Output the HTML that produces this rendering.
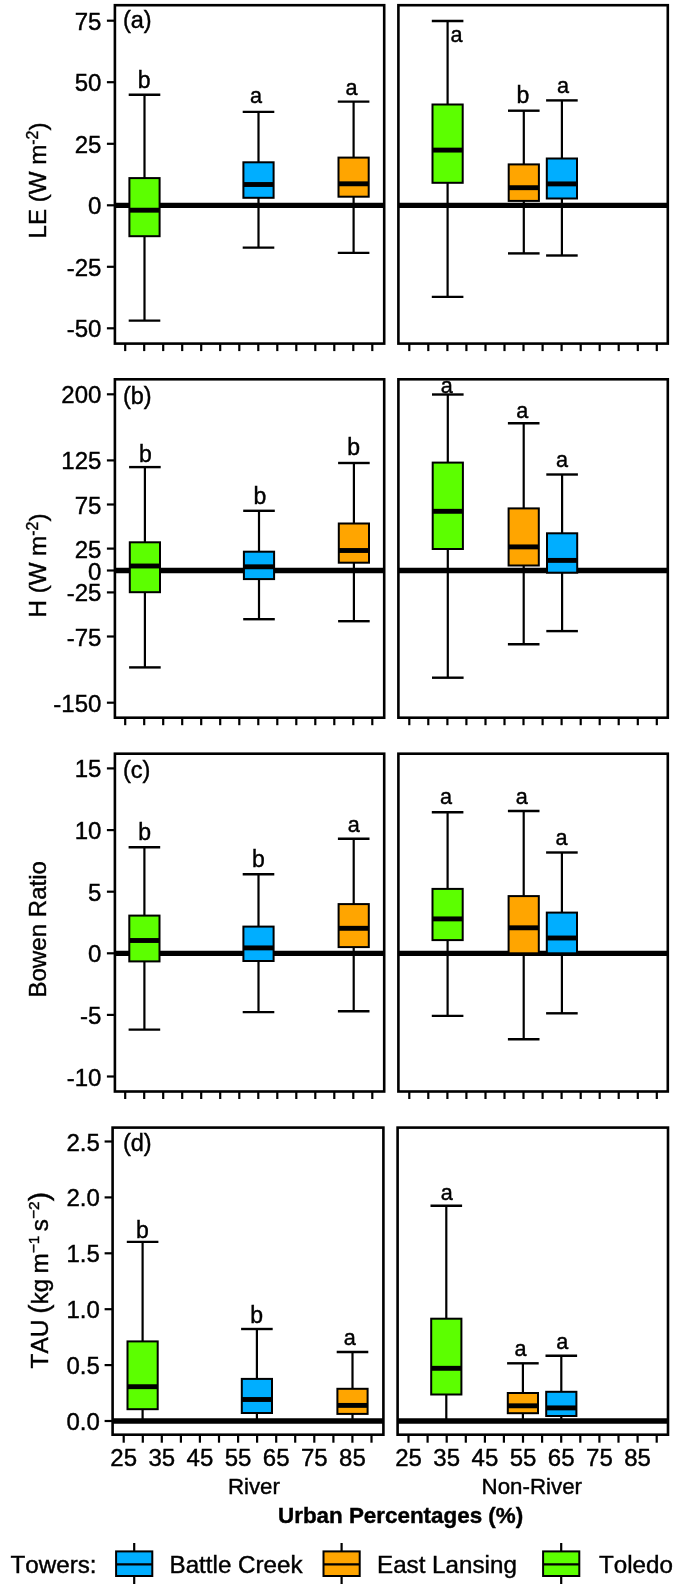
<!DOCTYPE html>
<html lang="en"><head><meta charset="utf-8"><title>Flux boxplots by urban percentage</title>
<style>
html,body{margin:0;padding:0;background:#fff;}
svg{display:block;}
text{font-family:"Liberation Sans",Arial,Helvetica,sans-serif;fill:#000;font-kerning:none;stroke:#000;stroke-width:0.42px;}
.fr{fill:none;stroke:#000;stroke-width:2.6;}
.tk{stroke:#000;stroke-width:2.2;}
.wh{stroke:#000;stroke-width:2.2;}
.cap{stroke:#000;stroke-width:2.4;}
.bx{stroke:#000;stroke-width:2.0;}
.med{stroke:#000;stroke-width:4.9;}
.zl{stroke:#000;stroke-width:5.3;}
.kb{stroke:#000;stroke-width:2;}
.km{stroke:#000;stroke-width:2.4;}
.yl{font-size:24px;text-anchor:end;}
.xl{font-size:24px;text-anchor:middle;}
.fl{font-size:22.3px;text-anchor:middle;}
.xt{font-size:22.4px;font-weight:bold;text-anchor:middle;}
.yt{font-size:24.1px;text-anchor:middle;}
.tag{font-size:23.5px;}
.ytd{font-size:24.3px;}
.let{font-size:23.5px;text-anchor:middle;}
.lg{font-size:24.2px;}
.la{font-size:21.6px;}
.lb{font-size:23px;}
</style></head>
<body>
<svg width="685" height="1589" viewBox="0 0 685 1589">
<defs><filter id="soft" x="0" y="0" width="100%" height="100%" filterUnits="userSpaceOnUse" color-interpolation-filters="sRGB"><feGaussianBlur stdDeviation="0.5"/></filter></defs>
<g filter="url(#soft)">
<rect width="685" height="1589" fill="#fff"/>
<line x1="114.9" y1="205.3" x2="384.2" y2="205.3" class="zl"/>
<line x1="398.4" y1="205.3" x2="667.8" y2="205.3" class="zl"/>
<line x1="144.5" y1="94.7" x2="144.5" y2="320.6" class="wh"/>
<line x1="128.7" y1="94.7" x2="160.3" y2="94.7" class="cap"/>
<line x1="128.7" y1="320.6" x2="160.3" y2="320.6" class="cap"/>
<rect x="129.4" y="178.1" width="30.2" height="58.1" fill="#5CFF00" class="bx"/>
<line x1="129.4" y1="210.2" x2="159.6" y2="210.2" class="med"/>
<text x="144.2" y="87.7" class="let lb">b</text>
<line x1="258.5" y1="111.9" x2="258.5" y2="247.6" class="wh"/>
<line x1="242.7" y1="111.9" x2="274.3" y2="111.9" class="cap"/>
<line x1="242.7" y1="247.6" x2="274.3" y2="247.6" class="cap"/>
<rect x="243.4" y="162.3" width="30.2" height="35.5" fill="#00AEFF" class="bx"/>
<line x1="243.4" y1="184.5" x2="273.6" y2="184.5" class="med"/>
<text x="255.9" y="102.8" class="let la">a</text>
<line x1="353.6" y1="101.6" x2="353.6" y2="252.9" class="wh"/>
<line x1="337.8" y1="101.6" x2="369.4" y2="101.6" class="cap"/>
<line x1="337.8" y1="252.9" x2="369.4" y2="252.9" class="cap"/>
<rect x="338.5" y="157.6" width="30.2" height="39.1" fill="#FFA500" class="bx"/>
<line x1="338.5" y1="183.8" x2="368.7" y2="183.8" class="med"/>
<text x="351.6" y="95.1" class="let la">a</text>
<line x1="447.6" y1="21.0" x2="447.6" y2="296.9" class="wh"/>
<line x1="431.8" y1="21.0" x2="463.4" y2="21.0" class="cap"/>
<line x1="431.8" y1="296.9" x2="463.4" y2="296.9" class="cap"/>
<rect x="432.5" y="104.5" width="30.2" height="78.3" fill="#5CFF00" class="bx"/>
<line x1="432.5" y1="150.1" x2="462.7" y2="150.1" class="med"/>
<text x="456.5" y="41.6" class="let la">a</text>
<line x1="523.8" y1="110.7" x2="523.8" y2="253.4" class="wh"/>
<line x1="508.0" y1="110.7" x2="539.6" y2="110.7" class="cap"/>
<line x1="508.0" y1="253.4" x2="539.6" y2="253.4" class="cap"/>
<rect x="508.7" y="164.4" width="30.2" height="36.5" fill="#FFA500" class="bx"/>
<line x1="508.7" y1="187.7" x2="538.9" y2="187.7" class="med"/>
<text x="523.0" y="102.9" class="let lb">b</text>
<line x1="561.9" y1="100.4" x2="561.9" y2="255.5" class="wh"/>
<line x1="546.1" y1="100.4" x2="577.7" y2="100.4" class="cap"/>
<line x1="546.1" y1="255.5" x2="577.7" y2="255.5" class="cap"/>
<rect x="546.8" y="158.5" width="30.2" height="40.0" fill="#00AEFF" class="bx"/>
<line x1="546.8" y1="183.9" x2="577.0" y2="183.9" class="med"/>
<text x="563.0" y="92.9" class="let la">a</text>
<rect x="114.9" y="5.2" width="269.3" height="338.4" class="fr"/>
<line x1="125.2" y1="343.6" x2="125.2" y2="351.1" class="tk"/>
<line x1="144.2" y1="343.6" x2="144.2" y2="351.1" class="tk"/>
<line x1="163.2" y1="343.6" x2="163.2" y2="351.1" class="tk"/>
<line x1="182.2" y1="343.6" x2="182.2" y2="351.1" class="tk"/>
<line x1="201.2" y1="343.6" x2="201.2" y2="351.1" class="tk"/>
<line x1="220.2" y1="343.6" x2="220.2" y2="351.1" class="tk"/>
<line x1="239.3" y1="343.6" x2="239.3" y2="351.1" class="tk"/>
<line x1="258.3" y1="343.6" x2="258.3" y2="351.1" class="tk"/>
<line x1="277.3" y1="343.6" x2="277.3" y2="351.1" class="tk"/>
<line x1="296.3" y1="343.6" x2="296.3" y2="351.1" class="tk"/>
<line x1="315.3" y1="343.6" x2="315.3" y2="351.1" class="tk"/>
<line x1="334.3" y1="343.6" x2="334.3" y2="351.1" class="tk"/>
<line x1="353.3" y1="343.6" x2="353.3" y2="351.1" class="tk"/>
<line x1="372.3" y1="343.6" x2="372.3" y2="351.1" class="tk"/>
<rect x="398.4" y="5.2" width="269.4" height="338.4" class="fr"/>
<line x1="409.3" y1="343.6" x2="409.3" y2="351.1" class="tk"/>
<line x1="428.3" y1="343.6" x2="428.3" y2="351.1" class="tk"/>
<line x1="447.4" y1="343.6" x2="447.4" y2="351.1" class="tk"/>
<line x1="466.4" y1="343.6" x2="466.4" y2="351.1" class="tk"/>
<line x1="485.5" y1="343.6" x2="485.5" y2="351.1" class="tk"/>
<line x1="504.5" y1="343.6" x2="504.5" y2="351.1" class="tk"/>
<line x1="523.5" y1="343.6" x2="523.5" y2="351.1" class="tk"/>
<line x1="542.6" y1="343.6" x2="542.6" y2="351.1" class="tk"/>
<line x1="561.6" y1="343.6" x2="561.6" y2="351.1" class="tk"/>
<line x1="580.7" y1="343.6" x2="580.7" y2="351.1" class="tk"/>
<line x1="599.7" y1="343.6" x2="599.7" y2="351.1" class="tk"/>
<line x1="618.7" y1="343.6" x2="618.7" y2="351.1" class="tk"/>
<line x1="637.8" y1="343.6" x2="637.8" y2="351.1" class="tk"/>
<line x1="656.8" y1="343.6" x2="656.8" y2="351.1" class="tk"/>
<line x1="106.9" y1="20.7" x2="114.9" y2="20.7" class="tk"/>
<text x="101.4" y="29.7" class="yl">75</text>
<line x1="106.9" y1="82.2" x2="114.9" y2="82.2" class="tk"/>
<text x="101.4" y="91.2" class="yl">50</text>
<line x1="106.9" y1="143.8" x2="114.9" y2="143.8" class="tk"/>
<text x="101.4" y="152.8" class="yl">25</text>
<line x1="106.9" y1="205.3" x2="114.9" y2="205.3" class="tk"/>
<text x="101.4" y="214.3" class="yl">0</text>
<line x1="106.9" y1="266.8" x2="114.9" y2="266.8" class="tk"/>
<text x="101.4" y="275.8" class="yl">-25</text>
<line x1="106.9" y1="328.3" x2="114.9" y2="328.3" class="tk"/>
<text x="101.4" y="337.3" class="yl">-50</text>
<text x="122.9" y="28.0" class="tag">(a)</text>
<line x1="114.9" y1="570.5" x2="384.2" y2="570.5" class="zl"/>
<line x1="398.4" y1="570.5" x2="667.8" y2="570.5" class="zl"/>
<line x1="144.9" y1="467.1" x2="144.9" y2="667.4" class="wh"/>
<line x1="129.1" y1="467.1" x2="160.7" y2="467.1" class="cap"/>
<line x1="129.1" y1="667.4" x2="160.7" y2="667.4" class="cap"/>
<rect x="129.8" y="542.3" width="30.2" height="49.9" fill="#5CFF00" class="bx"/>
<line x1="129.8" y1="566.0" x2="160.0" y2="566.0" class="med"/>
<text x="145.4" y="461.9" class="let lb">b</text>
<line x1="259.0" y1="510.8" x2="259.0" y2="619.2" class="wh"/>
<line x1="243.2" y1="510.8" x2="274.8" y2="510.8" class="cap"/>
<line x1="243.2" y1="619.2" x2="274.8" y2="619.2" class="cap"/>
<rect x="243.9" y="551.7" width="30.2" height="27.4" fill="#00AEFF" class="bx"/>
<line x1="243.9" y1="566.8" x2="274.1" y2="566.8" class="med"/>
<text x="260.0" y="503.6" class="let lb">b</text>
<line x1="353.9" y1="463.0" x2="353.9" y2="621.2" class="wh"/>
<line x1="338.1" y1="463.0" x2="369.7" y2="463.0" class="cap"/>
<line x1="338.1" y1="621.2" x2="369.7" y2="621.2" class="cap"/>
<rect x="338.8" y="523.5" width="30.2" height="39.2" fill="#FFA500" class="bx"/>
<line x1="338.8" y1="550.5" x2="369.0" y2="550.5" class="med"/>
<text x="353.7" y="454.5" class="let lb">b</text>
<line x1="447.8" y1="394.5" x2="447.8" y2="677.7" class="wh"/>
<line x1="432.0" y1="394.5" x2="463.6" y2="394.5" class="cap"/>
<line x1="432.0" y1="677.7" x2="463.6" y2="677.7" class="cap"/>
<rect x="432.7" y="462.6" width="30.2" height="86.4" fill="#5CFF00" class="bx"/>
<line x1="432.7" y1="511.3" x2="462.9" y2="511.3" class="med"/>
<text x="446.8" y="392.9" class="let la">a</text>
<line x1="523.7" y1="423.3" x2="523.7" y2="644.3" class="wh"/>
<line x1="507.9" y1="423.3" x2="539.5" y2="423.3" class="cap"/>
<line x1="507.9" y1="644.3" x2="539.5" y2="644.3" class="cap"/>
<rect x="508.6" y="508.4" width="30.2" height="57.1" fill="#FFA500" class="bx"/>
<line x1="508.6" y1="546.9" x2="538.8" y2="546.9" class="med"/>
<text x="522.2" y="418.3" class="let la">a</text>
<line x1="562.1" y1="474.5" x2="562.1" y2="631.1" class="wh"/>
<line x1="546.3" y1="474.5" x2="577.9" y2="474.5" class="cap"/>
<line x1="546.3" y1="631.1" x2="577.9" y2="631.1" class="cap"/>
<rect x="547.0" y="533.3" width="30.2" height="39.4" fill="#00AEFF" class="bx"/>
<line x1="547.0" y1="560.4" x2="577.2" y2="560.4" class="med"/>
<text x="561.9" y="467.4" class="let la">a</text>
<rect x="114.9" y="379.3" width="269.3" height="338.4" class="fr"/>
<line x1="125.2" y1="717.7" x2="125.2" y2="725.2" class="tk"/>
<line x1="144.2" y1="717.7" x2="144.2" y2="725.2" class="tk"/>
<line x1="163.2" y1="717.7" x2="163.2" y2="725.2" class="tk"/>
<line x1="182.2" y1="717.7" x2="182.2" y2="725.2" class="tk"/>
<line x1="201.2" y1="717.7" x2="201.2" y2="725.2" class="tk"/>
<line x1="220.2" y1="717.7" x2="220.2" y2="725.2" class="tk"/>
<line x1="239.3" y1="717.7" x2="239.3" y2="725.2" class="tk"/>
<line x1="258.3" y1="717.7" x2="258.3" y2="725.2" class="tk"/>
<line x1="277.3" y1="717.7" x2="277.3" y2="725.2" class="tk"/>
<line x1="296.3" y1="717.7" x2="296.3" y2="725.2" class="tk"/>
<line x1="315.3" y1="717.7" x2="315.3" y2="725.2" class="tk"/>
<line x1="334.3" y1="717.7" x2="334.3" y2="725.2" class="tk"/>
<line x1="353.3" y1="717.7" x2="353.3" y2="725.2" class="tk"/>
<line x1="372.3" y1="717.7" x2="372.3" y2="725.2" class="tk"/>
<rect x="398.4" y="379.3" width="269.4" height="338.4" class="fr"/>
<line x1="409.3" y1="717.7" x2="409.3" y2="725.2" class="tk"/>
<line x1="428.3" y1="717.7" x2="428.3" y2="725.2" class="tk"/>
<line x1="447.4" y1="717.7" x2="447.4" y2="725.2" class="tk"/>
<line x1="466.4" y1="717.7" x2="466.4" y2="725.2" class="tk"/>
<line x1="485.5" y1="717.7" x2="485.5" y2="725.2" class="tk"/>
<line x1="504.5" y1="717.7" x2="504.5" y2="725.2" class="tk"/>
<line x1="523.5" y1="717.7" x2="523.5" y2="725.2" class="tk"/>
<line x1="542.6" y1="717.7" x2="542.6" y2="725.2" class="tk"/>
<line x1="561.6" y1="717.7" x2="561.6" y2="725.2" class="tk"/>
<line x1="580.7" y1="717.7" x2="580.7" y2="725.2" class="tk"/>
<line x1="599.7" y1="717.7" x2="599.7" y2="725.2" class="tk"/>
<line x1="618.7" y1="717.7" x2="618.7" y2="725.2" class="tk"/>
<line x1="637.8" y1="717.7" x2="637.8" y2="725.2" class="tk"/>
<line x1="656.8" y1="717.7" x2="656.8" y2="725.2" class="tk"/>
<line x1="106.9" y1="394.3" x2="114.9" y2="394.3" class="tk"/>
<text x="101.4" y="403.3" class="yl">200</text>
<line x1="106.9" y1="460.4" x2="114.9" y2="460.4" class="tk"/>
<text x="101.4" y="469.4" class="yl">125</text>
<line x1="106.9" y1="504.5" x2="114.9" y2="504.5" class="tk"/>
<text x="101.4" y="513.5" class="yl">75</text>
<line x1="106.9" y1="548.6" x2="114.9" y2="548.6" class="tk"/>
<text x="101.4" y="557.6" class="yl">25</text>
<line x1="106.9" y1="570.5" x2="114.9" y2="570.5" class="tk"/>
<text x="101.4" y="579.5" class="yl">0</text>
<line x1="106.9" y1="592.4" x2="114.9" y2="592.4" class="tk"/>
<text x="101.4" y="601.4" class="yl">-25</text>
<line x1="106.9" y1="636.5" x2="114.9" y2="636.5" class="tk"/>
<text x="101.4" y="645.5" class="yl">-75</text>
<line x1="106.9" y1="702.7" x2="114.9" y2="702.7" class="tk"/>
<text x="101.4" y="711.7" class="yl">-150</text>
<text x="122.9" y="403.5" class="tag">(b)</text>
<line x1="114.9" y1="953.3" x2="384.2" y2="953.3" class="zl"/>
<line x1="398.4" y1="953.3" x2="667.8" y2="953.3" class="zl"/>
<line x1="144.4" y1="847.3" x2="144.4" y2="1029.6" class="wh"/>
<line x1="128.6" y1="847.3" x2="160.2" y2="847.3" class="cap"/>
<line x1="128.6" y1="1029.6" x2="160.2" y2="1029.6" class="cap"/>
<rect x="129.3" y="915.6" width="30.2" height="45.8" fill="#5CFF00" class="bx"/>
<line x1="129.3" y1="940.5" x2="159.5" y2="940.5" class="med"/>
<text x="144.7" y="840.1" class="let lb">b</text>
<line x1="258.5" y1="874.3" x2="258.5" y2="1012.1" class="wh"/>
<line x1="242.7" y1="874.3" x2="274.3" y2="874.3" class="cap"/>
<line x1="242.7" y1="1012.1" x2="274.3" y2="1012.1" class="cap"/>
<rect x="243.4" y="926.6" width="30.2" height="34.4" fill="#00AEFF" class="bx"/>
<line x1="243.4" y1="947.9" x2="273.6" y2="947.9" class="med"/>
<text x="258.5" y="866.6" class="let lb">b</text>
<line x1="353.7" y1="838.7" x2="353.7" y2="1011.2" class="wh"/>
<line x1="337.9" y1="838.7" x2="369.5" y2="838.7" class="cap"/>
<line x1="337.9" y1="1011.2" x2="369.5" y2="1011.2" class="cap"/>
<rect x="338.6" y="904.1" width="30.2" height="43.0" fill="#FFA500" class="bx"/>
<line x1="338.6" y1="928.3" x2="368.8" y2="928.3" class="med"/>
<text x="353.7" y="831.9" class="let la">a</text>
<line x1="447.6" y1="812.2" x2="447.6" y2="1015.9" class="wh"/>
<line x1="431.8" y1="812.2" x2="463.4" y2="812.2" class="cap"/>
<line x1="431.8" y1="1015.9" x2="463.4" y2="1015.9" class="cap"/>
<rect x="432.5" y="888.9" width="30.2" height="51.2" fill="#5CFF00" class="bx"/>
<line x1="432.5" y1="918.9" x2="462.7" y2="918.9" class="med"/>
<text x="446.0" y="803.9" class="let la">a</text>
<line x1="523.7" y1="811.0" x2="523.7" y2="1039.2" class="wh"/>
<line x1="507.9" y1="811.0" x2="539.5" y2="811.0" class="cap"/>
<line x1="507.9" y1="1039.2" x2="539.5" y2="1039.2" class="cap"/>
<rect x="508.6" y="896.1" width="30.2" height="57.2" fill="#FFA500" class="bx"/>
<line x1="508.6" y1="927.8" x2="538.8" y2="927.8" class="med"/>
<text x="521.8" y="803.9" class="let la">a</text>
<line x1="561.9" y1="852.5" x2="561.9" y2="1013.3" class="wh"/>
<line x1="546.1" y1="852.5" x2="577.7" y2="852.5" class="cap"/>
<line x1="546.1" y1="1013.3" x2="577.7" y2="1013.3" class="cap"/>
<rect x="546.8" y="912.6" width="30.2" height="40.7" fill="#00AEFF" class="bx"/>
<line x1="546.8" y1="938.0" x2="577.0" y2="938.0" class="med"/>
<text x="561.6" y="845.4" class="let la">a</text>
<rect x="114.9" y="753.7" width="269.3" height="337.8" class="fr"/>
<line x1="125.2" y1="1091.5" x2="125.2" y2="1099.0" class="tk"/>
<line x1="144.2" y1="1091.5" x2="144.2" y2="1099.0" class="tk"/>
<line x1="163.2" y1="1091.5" x2="163.2" y2="1099.0" class="tk"/>
<line x1="182.2" y1="1091.5" x2="182.2" y2="1099.0" class="tk"/>
<line x1="201.2" y1="1091.5" x2="201.2" y2="1099.0" class="tk"/>
<line x1="220.2" y1="1091.5" x2="220.2" y2="1099.0" class="tk"/>
<line x1="239.3" y1="1091.5" x2="239.3" y2="1099.0" class="tk"/>
<line x1="258.3" y1="1091.5" x2="258.3" y2="1099.0" class="tk"/>
<line x1="277.3" y1="1091.5" x2="277.3" y2="1099.0" class="tk"/>
<line x1="296.3" y1="1091.5" x2="296.3" y2="1099.0" class="tk"/>
<line x1="315.3" y1="1091.5" x2="315.3" y2="1099.0" class="tk"/>
<line x1="334.3" y1="1091.5" x2="334.3" y2="1099.0" class="tk"/>
<line x1="353.3" y1="1091.5" x2="353.3" y2="1099.0" class="tk"/>
<line x1="372.3" y1="1091.5" x2="372.3" y2="1099.0" class="tk"/>
<rect x="398.4" y="753.7" width="269.4" height="337.8" class="fr"/>
<line x1="409.3" y1="1091.5" x2="409.3" y2="1099.0" class="tk"/>
<line x1="428.3" y1="1091.5" x2="428.3" y2="1099.0" class="tk"/>
<line x1="447.4" y1="1091.5" x2="447.4" y2="1099.0" class="tk"/>
<line x1="466.4" y1="1091.5" x2="466.4" y2="1099.0" class="tk"/>
<line x1="485.5" y1="1091.5" x2="485.5" y2="1099.0" class="tk"/>
<line x1="504.5" y1="1091.5" x2="504.5" y2="1099.0" class="tk"/>
<line x1="523.5" y1="1091.5" x2="523.5" y2="1099.0" class="tk"/>
<line x1="542.6" y1="1091.5" x2="542.6" y2="1099.0" class="tk"/>
<line x1="561.6" y1="1091.5" x2="561.6" y2="1099.0" class="tk"/>
<line x1="580.7" y1="1091.5" x2="580.7" y2="1099.0" class="tk"/>
<line x1="599.7" y1="1091.5" x2="599.7" y2="1099.0" class="tk"/>
<line x1="618.7" y1="1091.5" x2="618.7" y2="1099.0" class="tk"/>
<line x1="637.8" y1="1091.5" x2="637.8" y2="1099.0" class="tk"/>
<line x1="656.8" y1="1091.5" x2="656.8" y2="1099.0" class="tk"/>
<line x1="106.9" y1="768.4" x2="114.9" y2="768.4" class="tk"/>
<text x="101.4" y="777.4" class="yl">15</text>
<line x1="106.9" y1="830.1" x2="114.9" y2="830.1" class="tk"/>
<text x="101.4" y="839.1" class="yl">10</text>
<line x1="106.9" y1="891.7" x2="114.9" y2="891.7" class="tk"/>
<text x="101.4" y="900.7" class="yl">5</text>
<line x1="106.9" y1="953.3" x2="114.9" y2="953.3" class="tk"/>
<text x="101.4" y="962.3" class="yl">0</text>
<line x1="106.9" y1="1014.9" x2="114.9" y2="1014.9" class="tk"/>
<text x="101.4" y="1023.9" class="yl">-5</text>
<line x1="106.9" y1="1076.5" x2="114.9" y2="1076.5" class="tk"/>
<text x="101.4" y="1085.5" class="yl">-10</text>
<text x="122.9" y="777.8" class="tag">(c)</text>
<line x1="112.6" y1="1421.0" x2="383.4" y2="1421.0" class="zl"/>
<line x1="397.6" y1="1421.0" x2="668.0" y2="1421.0" class="zl"/>
<line x1="142.6" y1="1241.9" x2="142.6" y2="1421.0" class="wh"/>
<line x1="126.8" y1="1241.9" x2="158.4" y2="1241.9" class="cap"/>
<line x1="126.8" y1="1421.0" x2="158.4" y2="1421.0" class="cap"/>
<rect x="127.5" y="1341.4" width="30.2" height="67.8" fill="#5CFF00" class="bx"/>
<line x1="127.5" y1="1386.7" x2="157.7" y2="1386.7" class="med"/>
<text x="142.3" y="1237.8" class="let lb">b</text>
<line x1="256.9" y1="1329.0" x2="256.9" y2="1421.0" class="wh"/>
<line x1="241.1" y1="1329.0" x2="272.7" y2="1329.0" class="cap"/>
<line x1="241.1" y1="1421.0" x2="272.7" y2="1421.0" class="cap"/>
<rect x="241.8" y="1378.9" width="30.2" height="34.1" fill="#00AEFF" class="bx"/>
<line x1="241.8" y1="1399.5" x2="272.0" y2="1399.5" class="med"/>
<text x="256.6" y="1322.9" class="let lb">b</text>
<line x1="352.5" y1="1352.0" x2="352.5" y2="1421.0" class="wh"/>
<line x1="336.7" y1="1352.0" x2="368.3" y2="1352.0" class="cap"/>
<line x1="336.7" y1="1421.0" x2="368.3" y2="1421.0" class="cap"/>
<rect x="337.4" y="1388.8" width="30.2" height="25.1" fill="#FFA500" class="bx"/>
<line x1="337.4" y1="1405.4" x2="367.6" y2="1405.4" class="med"/>
<text x="349.8" y="1345.1" class="let la">a</text>
<line x1="446.3" y1="1205.8" x2="446.3" y2="1421.0" class="wh"/>
<line x1="430.5" y1="1205.8" x2="462.1" y2="1205.8" class="cap"/>
<line x1="430.5" y1="1421.0" x2="462.1" y2="1421.0" class="cap"/>
<rect x="431.2" y="1318.7" width="30.2" height="75.8" fill="#5CFF00" class="bx"/>
<line x1="431.2" y1="1368.3" x2="461.4" y2="1368.3" class="med"/>
<text x="446.7" y="1199.7" class="let la">a</text>
<line x1="522.9" y1="1363.3" x2="522.9" y2="1421.0" class="wh"/>
<line x1="507.1" y1="1363.3" x2="538.7" y2="1363.3" class="cap"/>
<line x1="507.1" y1="1421.0" x2="538.7" y2="1421.0" class="cap"/>
<rect x="507.8" y="1393.0" width="30.2" height="20.2" fill="#FFA500" class="bx"/>
<line x1="507.8" y1="1405.8" x2="538.0" y2="1405.8" class="med"/>
<text x="520.4" y="1356.3" class="let la">a</text>
<line x1="561.3" y1="1355.8" x2="561.3" y2="1421.0" class="wh"/>
<line x1="545.5" y1="1355.8" x2="577.1" y2="1355.8" class="cap"/>
<line x1="545.5" y1="1421.0" x2="577.1" y2="1421.0" class="cap"/>
<rect x="546.2" y="1391.8" width="30.2" height="24.2" fill="#00AEFF" class="bx"/>
<line x1="546.2" y1="1407.9" x2="576.4" y2="1407.9" class="med"/>
<text x="562.2" y="1348.7" class="let la">a</text>
<rect x="112.6" y="1127.6" width="270.8" height="307.1" class="fr"/>
<line x1="123.7" y1="1434.7" x2="123.7" y2="1442.7" class="tk"/>
<line x1="142.8" y1="1434.7" x2="142.8" y2="1442.7" class="tk"/>
<line x1="161.8" y1="1434.7" x2="161.8" y2="1442.7" class="tk"/>
<line x1="180.9" y1="1434.7" x2="180.9" y2="1442.7" class="tk"/>
<line x1="199.9" y1="1434.7" x2="199.9" y2="1442.7" class="tk"/>
<line x1="219.0" y1="1434.7" x2="219.0" y2="1442.7" class="tk"/>
<line x1="238.1" y1="1434.7" x2="238.1" y2="1442.7" class="tk"/>
<line x1="257.1" y1="1434.7" x2="257.1" y2="1442.7" class="tk"/>
<line x1="276.2" y1="1434.7" x2="276.2" y2="1442.7" class="tk"/>
<line x1="295.2" y1="1434.7" x2="295.2" y2="1442.7" class="tk"/>
<line x1="314.3" y1="1434.7" x2="314.3" y2="1442.7" class="tk"/>
<line x1="333.4" y1="1434.7" x2="333.4" y2="1442.7" class="tk"/>
<line x1="352.4" y1="1434.7" x2="352.4" y2="1442.7" class="tk"/>
<line x1="371.5" y1="1434.7" x2="371.5" y2="1442.7" class="tk"/>
<rect x="397.6" y="1127.6" width="270.4" height="307.1" class="fr"/>
<line x1="408.5" y1="1434.7" x2="408.5" y2="1442.7" class="tk"/>
<line x1="427.6" y1="1434.7" x2="427.6" y2="1442.7" class="tk"/>
<line x1="446.7" y1="1434.7" x2="446.7" y2="1442.7" class="tk"/>
<line x1="465.8" y1="1434.7" x2="465.8" y2="1442.7" class="tk"/>
<line x1="484.9" y1="1434.7" x2="484.9" y2="1442.7" class="tk"/>
<line x1="503.9" y1="1434.7" x2="503.9" y2="1442.7" class="tk"/>
<line x1="523.0" y1="1434.7" x2="523.0" y2="1442.7" class="tk"/>
<line x1="542.1" y1="1434.7" x2="542.1" y2="1442.7" class="tk"/>
<line x1="561.2" y1="1434.7" x2="561.2" y2="1442.7" class="tk"/>
<line x1="580.3" y1="1434.7" x2="580.3" y2="1442.7" class="tk"/>
<line x1="599.4" y1="1434.7" x2="599.4" y2="1442.7" class="tk"/>
<line x1="618.5" y1="1434.7" x2="618.5" y2="1442.7" class="tk"/>
<line x1="637.6" y1="1434.7" x2="637.6" y2="1442.7" class="tk"/>
<line x1="656.7" y1="1434.7" x2="656.7" y2="1442.7" class="tk"/>
<line x1="104.6" y1="1141.5" x2="112.6" y2="1141.5" class="tk"/>
<text x="99.8" y="1150.5" class="yl">2.5</text>
<line x1="104.6" y1="1197.4" x2="112.6" y2="1197.4" class="tk"/>
<text x="99.8" y="1206.4" class="yl">2.0</text>
<line x1="104.6" y1="1253.3" x2="112.6" y2="1253.3" class="tk"/>
<text x="99.8" y="1262.3" class="yl">1.5</text>
<line x1="104.6" y1="1309.2" x2="112.6" y2="1309.2" class="tk"/>
<text x="99.8" y="1318.2" class="yl">1.0</text>
<line x1="104.6" y1="1365.1" x2="112.6" y2="1365.1" class="tk"/>
<text x="99.8" y="1374.1" class="yl">0.5</text>
<line x1="104.6" y1="1421.0" x2="112.6" y2="1421.0" class="tk"/>
<text x="99.8" y="1430.0" class="yl">0.0</text>
<text x="122.9" y="1150.5" class="tag">(d)</text>
<text transform="translate(46.3,180.5) rotate(-90)" class="yt">LE (W m<tspan dy="-8.8" font-size="16">-2</tspan><tspan dy="8.8">)</tspan></text>
<text transform="translate(46.3,565.5) rotate(-90)" class="yt">H (W m<tspan dy="-8.8" font-size="16">-2</tspan><tspan dy="8.8">)</tspan></text>
<text transform="translate(46.0,929.3) rotate(-90)" class="yt">Bowen Ratio</text>
<text transform="translate(47.5,1280.3) rotate(-90)" class="yt ytd"><tspan word-spacing="-0.6">TAU </tspan><tspan font-size="27.5" dy="0.8">(</tspan><tspan dy="-0.8" word-spacing="-1.5">kg m</tspan><tspan dy="-9" font-size="15.5">−1</tspan><tspan dy="9" word-spacing="-2.3"> s</tspan><tspan dy="-9" font-size="15.5">−2</tspan><tspan dy="9.8" font-size="27.5">)</tspan></text>
<text x="123.7" y="1465.5" class="xl">25</text>
<text x="161.8" y="1465.5" class="xl">35</text>
<text x="199.9" y="1465.5" class="xl">45</text>
<text x="238.1" y="1465.5" class="xl">55</text>
<text x="276.2" y="1465.5" class="xl">65</text>
<text x="314.3" y="1465.5" class="xl">75</text>
<text x="352.4" y="1465.5" class="xl">85</text>
<text x="408.5" y="1465.5" class="xl">25</text>
<text x="446.7" y="1465.5" class="xl">35</text>
<text x="484.9" y="1465.5" class="xl">45</text>
<text x="523.0" y="1465.5" class="xl">55</text>
<text x="561.2" y="1465.5" class="xl">65</text>
<text x="599.4" y="1465.5" class="xl">75</text>
<text x="637.6" y="1465.5" class="xl">85</text>
<text x="253.9" y="1493.8" class="fl">River</text>
<text x="531.8" y="1493.8" class="fl">Non-River</text>
<text x="400.6" y="1523.3" class="xt">Urban Percentages (%)</text>
<text x="10.5" y="1573.0" class="lg">Towers:</text>
<line x1="134.2" y1="1543.0" x2="134.2" y2="1584.0" class="wh"/>
<rect x="116.1" y="1551.4" width="36.2" height="24.6" fill="#00AEFF" class="kb"/>
<line x1="116.1" y1="1564.4" x2="152.3" y2="1564.4" class="km"/>
<text x="169.5" y="1573.0" class="lg">Battle Creek</text>
<line x1="341.6" y1="1543.0" x2="341.6" y2="1584.0" class="wh"/>
<rect x="323.5" y="1551.4" width="36.2" height="24.6" fill="#FFA500" class="kb"/>
<line x1="323.5" y1="1564.4" x2="359.7" y2="1564.4" class="km"/>
<text x="377.0" y="1573.0" class="lg">East Lansing</text>
<line x1="561.2" y1="1543.0" x2="561.2" y2="1584.0" class="wh"/>
<rect x="543.1" y="1551.4" width="36.2" height="24.6" fill="#5CFF00" class="kb"/>
<line x1="543.1" y1="1564.4" x2="579.3" y2="1564.4" class="km"/>
<text x="599.0" y="1573.0" class="lg">Toledo</text>
</g>
</svg>
</body></html>
